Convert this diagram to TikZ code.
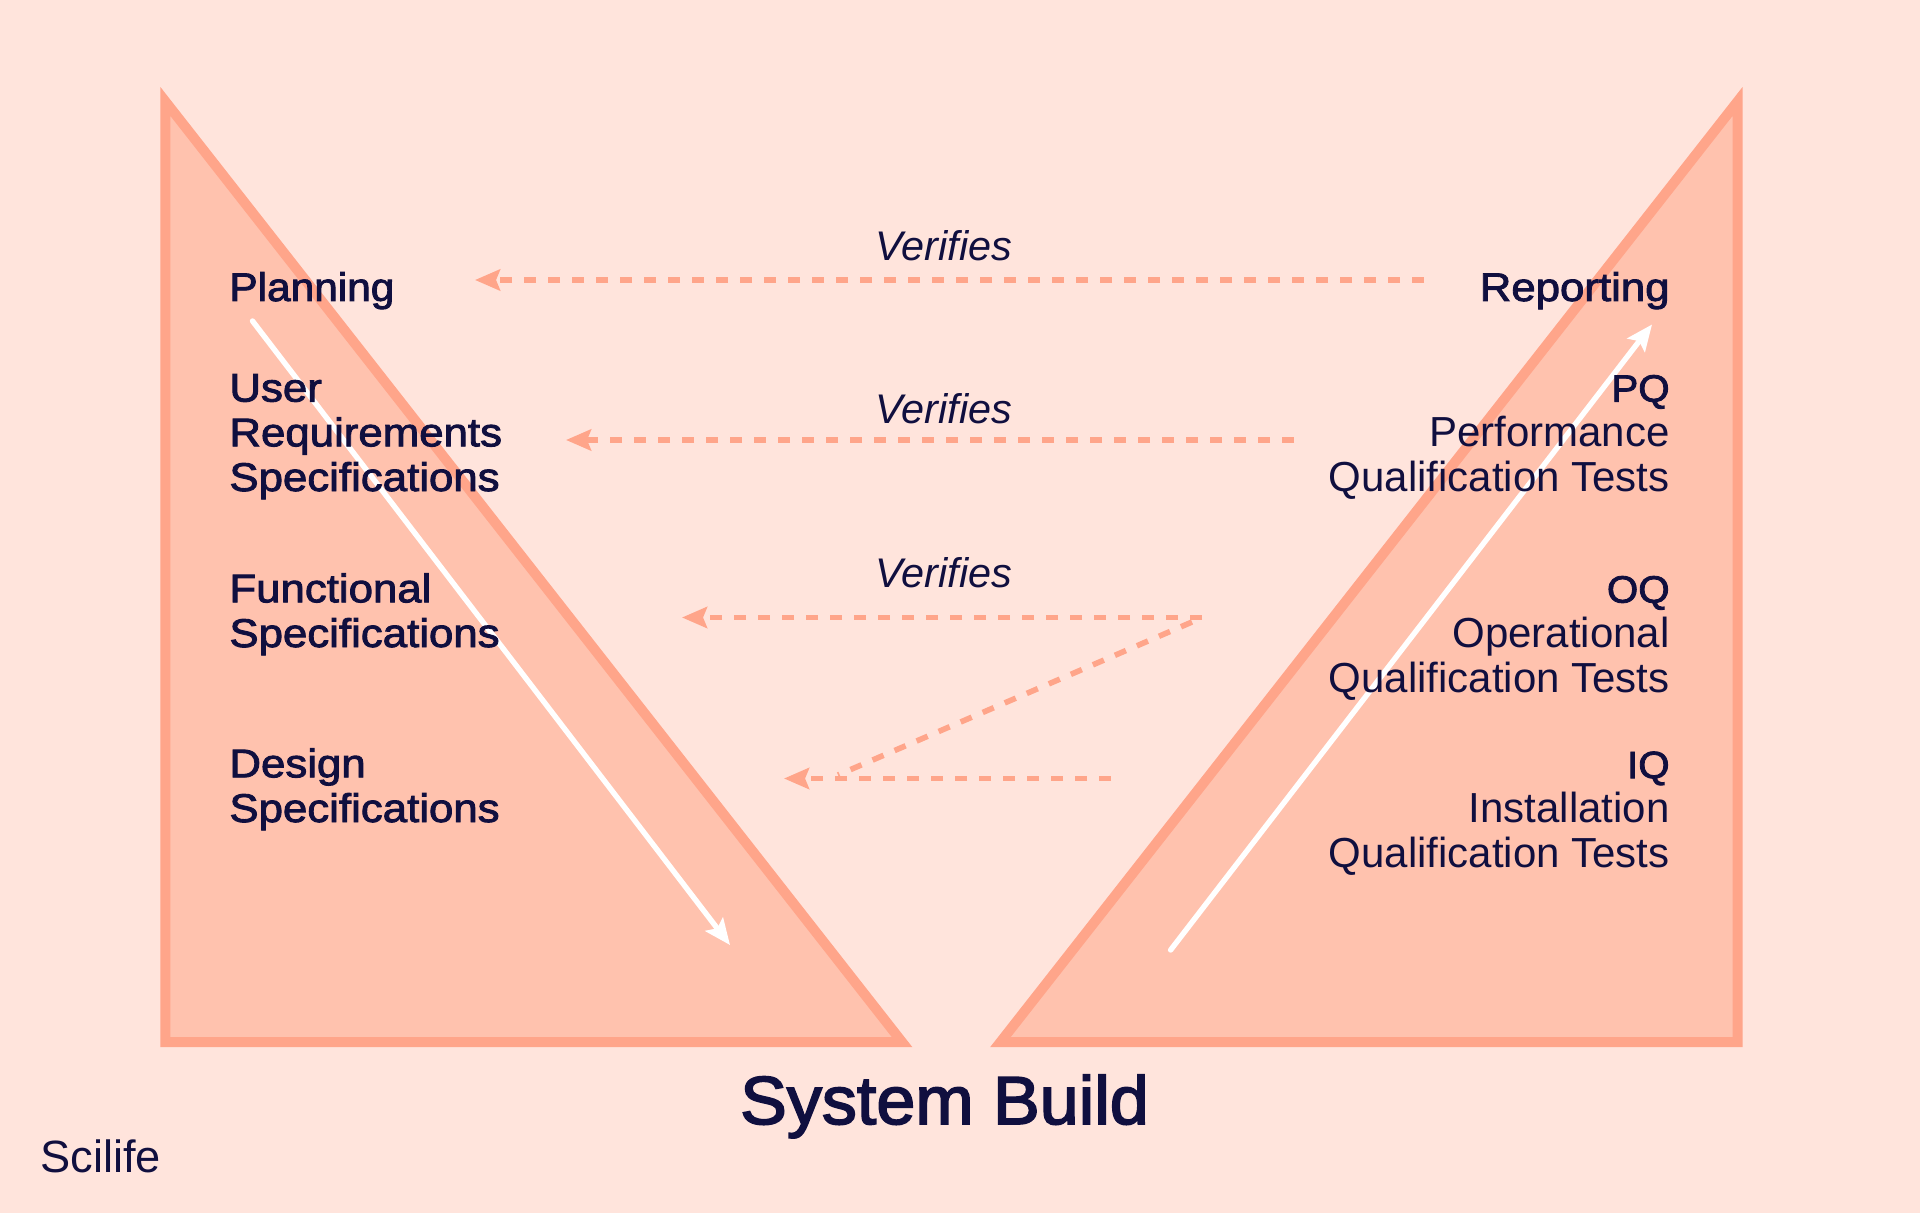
\documentclass[tikz,border=0pt]{standalone}
\usepackage{fontspec}
\setmainfont{Liberation Sans}
\newfontfamily\medfont[FakeBold=2.2,FakeStretch=1.095]{Liberation Sans}
\newfontfamily\tightfont[FakeBold=2.2,FakeStretch=1.06]{Liberation Sans}
\newfontfamily\headfont[FakeBold=2.5,FakeStretch=1.03]{Liberation Sans}
\usetikzlibrary{arrows.meta}
\definecolor{bgc}{HTML}{FFE4DC}
\definecolor{fillc}{HTML}{FFC2AE}
\definecolor{linec}{HTML}{FFA58A}
\definecolor{inkc}{HTML}{100F3F}
\tikzset{
  x=0.5pt,y=-0.5pt,
  vee/.style={draw=linec,fill=fillc,line width=5pt,line join=miter,miter limit=10},
  flow/.style={draw=white,line width=2.7pt,line cap=round,-{Stealth[length=13pt,width=11pt,inset=2.5pt]}},
  verify/.style={draw=linec,line width=2.8pt,dash pattern=on 6pt off 6pt,-{Stealth[length=12.5pt,width=10.5pt,inset=2pt,fill=linec]}},
  verifyplain/.style={draw=linec,line width=2.8pt,dash pattern=on 6pt off 6pt},
  lefttext/.style={inner sep=0pt,anchor=base west,align=left,text=inkc,font=\medfont\fontsize{20}{22.35}\selectfont},
  righttext/.style={inner sep=0pt,anchor=base east,align=right,text=inkc,font=\fontsize{21}{22.35}\selectfont},
  verifytext/.style={inner sep=0pt,anchor=base,text=inkc,font=\itshape\fontsize{20.7}{24}\selectfont},
}
\begin{document}
\begin{tikzpicture}
\useasboundingbox (0,0) rectangle (1920,1213);
\fill[bgc] (0,0) rectangle (1920,1213);
% triangles
\draw[vee] (165.4,101.5) -- (165.4,1042) -- (902,1042) -- cycle;
\draw[vee] (1737.5,101.5) -- (1737.5,1042) -- (1000.5,1042) -- cycle;
% white flows
\coordinate (fa) at (252.5,321);
\coordinate (fb) at (730,945);
\coordinate (ga) at (1170.6,950);
\coordinate (gb) at (1652,324.5);
\draw[flow] (fa) -- (fb);
\draw[flow] (ga) -- (gb);
% verifies arrows
\coordinate (a1) at (1424,280);
\coordinate (b1) at (475,280);
\coordinate (a2) at (1294,440);
\coordinate (b2) at (566,440);
\coordinate (a3) at (1202,617.5);
\coordinate (b3) at (682,617.5);
\coordinate (a4) at (1111,778.5);
\coordinate (b4) at (784,778.5);
\coordinate (d1) at (1192,622);
\coordinate (d2) at (838,775);
\draw[verify] (a1) -- (b1);
\draw[verify] (a2) -- (b2);
\draw[verify] (a3) -- (b3);
\draw[verify] (a4) -- (b4);
\draw[verifyplain] (d1) -- (d2);
% labels
\node[verifytext] (v1) at (944,261) {Verifies};
\node[verifytext] (v2) at (944,424) {Verifies};
\node[verifytext] (v3) at (944,587) {Verifies};
\node[lefttext,font=\tightfont\fontsize{20}{22.35}\selectfont] (planning) at (229,301) {Planning};
\node[lefttext] (urs) at (229,491) {User\\Requirements\\Specifications};
\node[lefttext] (fs) at (229,647) {Functional\\Specifications};
\node[lefttext] (ds) at (229,822) {Design\\Specifications};
\node[righttext,font=\medfont\fontsize{20}{22.35}\selectfont] (reporting) at (1670,301) {Reporting};
\node[righttext] (pq) at (1670,491) {{\tightfont\fontsize{19}{22.35}\selectfont PQ}\\Performance\\Qualification Tests};
\node[righttext] (oq) at (1670,692) {{\tightfont\fontsize{19}{22.35}\selectfont OQ}\\Operational\\Qualification Tests};
\node[righttext] (iq) at (1670,867.5) {{\tightfont\fontsize{19}{22.35}\selectfont IQ}\\Installation\\Qualification Tests};
\node[inner sep=0pt,anchor=base,text=inkc,font=\headfont\fontsize{34}{40}\selectfont] (build) at (944.5,1124) {System Build};
\node[inner sep=0pt,anchor=base west,text=inkc,font=\fontsize{22.6}{26}\selectfont] (logo) at (40,1172) {Scilife};
\end{tikzpicture}
\end{document}
